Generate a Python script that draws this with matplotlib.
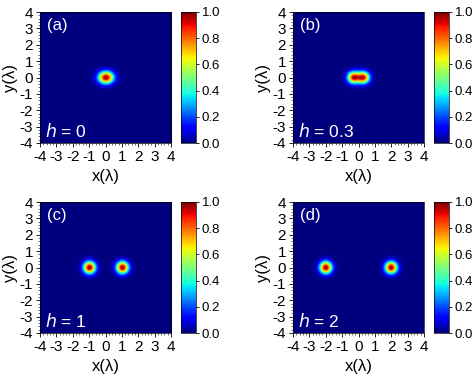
"""
Focal spot intensity maps for four separations h, jet colormap, 2x2 panels.
"""

import numpy as np
import matplotlib
matplotlib.use("Agg")
import matplotlib.pyplot as plt
from matplotlib.ticker import MultipleLocator

plt.rcParams.update({
    "font.family": ["Liberation Sans", "DejaVu Sans"],
    "font.size": 10,
    "axes.unicode_minus": False,
    "xtick.direction": "out",
    "ytick.direction": "out",
})

# panel data
panel_tags = ["(a)", "(b)", "(c)", "(d)"]
h_values = [0, 0.3, 1, 2]
h_labels = ["0", "0.3", "1", "2"]
# spot widths (in lambda)
sigma_x = [0.32, 0.26, 0.26, 0.26]
sigma_y = [0.26, 0.25, 0.26, 0.26]

axis_ticks = [-4, -3, -2, -1, 0, 1, 2, 3, 4]
cbar_ticks = [0.0, 0.2, 0.4, 0.6, 0.8, 1.0]

# grid
xs = np.linspace(-4, 4, 401)
X, Y = np.meshgrid(xs, xs)


def intensity(h, sx, sy):
    centres = [-h, h] if h > 0 else [0.0]
    I = sum(np.exp(-((X - c) ** 2) / (2 * sx ** 2) - Y ** 2 / (2 * sy ** 2))
            for c in centres)
    return I / I.max()


W, H = 474, 379
fig = plt.figure(figsize=(W / 100, H / 100), dpi=100)

# pixel boxes (left, top) for each panel
boxes = [(40, 12), (293, 12), (40, 202), (293, 202)]
ax_w, ax_h = 131, 131
cb_off, cb_w = 141, 15

for i, (left, top) in enumerate(boxes):
    ax = fig.add_axes([left / W, 1 - (top + ax_h) / H, ax_w / W, ax_h / H])
    img = intensity(h_values[i], sigma_x[i], sigma_y[i])
    im = ax.imshow(img, extent=[-4, 4, -4, 4], origin="lower", cmap="jet",
                   vmin=0, vmax=1, interpolation="bilinear", aspect="auto")
    ax.set_xticks(axis_ticks)
    ax.set_yticks(axis_ticks)
    ax.xaxis.set_minor_locator(MultipleLocator(0.2))
    ax.yaxis.set_minor_locator(MultipleLocator(0.2))
    ax.tick_params(which="major", length=3, width=0.6, pad=2, labelsize=11)
    ax.tick_params(which="minor", length=1.5, width=0.4)
    ax.set_xlabel("x(λ)", fontsize=12, labelpad=4)
    ax.set_ylabel("y(λ)", fontsize=12, labelpad=1)
    for s in ax.spines.values():
        s.set_linewidth(0.5)

    ax.text(0.05, 0.90, panel_tags[i], transform=ax.transAxes, color="white",
            fontsize=12, ha="left", va="center")
    ax.text(0.04, 0.09, f"$h$ = {h_labels[i]}", transform=ax.transAxes,
            color="white", fontsize=12.5, ha="left", va="center")

    cax = fig.add_axes([(left + cb_off) / W, 1 - (top + ax_h) / H,
                        cb_w / W, ax_h / H])
    cb = fig.colorbar(im, cax=cax, ticks=cbar_ticks)
    cb.ax.yaxis.set_major_formatter(plt.FuncFormatter(lambda v, _: f"{v:.1f}"))
    cb.ax.tick_params(length=2.5, width=0.6, pad=1.5, labelsize=9.5)
    cb.outline.set_linewidth(0.5)

fig.savefig("out.png", dpi=100)
